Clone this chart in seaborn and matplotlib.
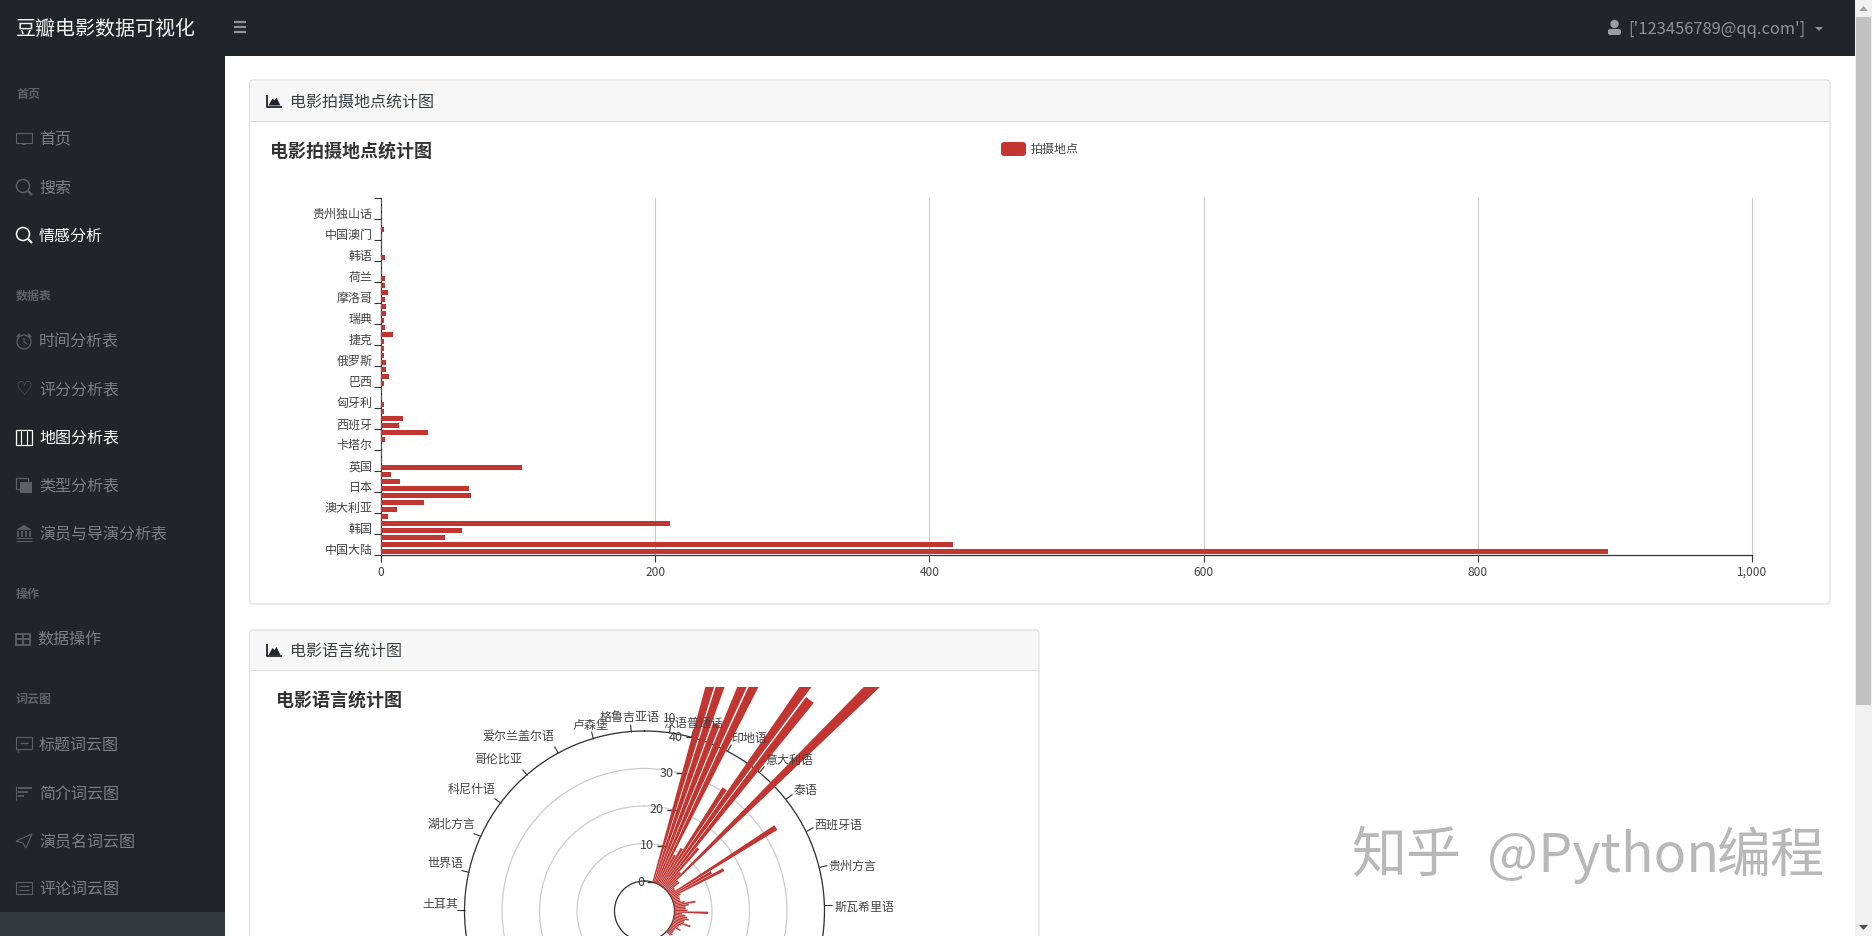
import numpy as np
import pandas as pd
import seaborn as sns
import matplotlib
matplotlib.use('Agg')
import matplotlib.pyplot as plt
from matplotlib.patches import Rectangle, FancyBboxPatch, Circle, Polygon
from matplotlib.transforms import IdentityTransform, ScaledTranslation

# data
location_names = ['中国大陆', '韩国', '澳大利亚', '日本', '英国', '卡塔尔', '西班牙', '匈牙利', '巴西',
                  '俄罗斯', '捷克', '瑞典', '摩洛哥', '荷兰', '韩语', '中国澳门', '贵州独山话']
location_counts = [895, 417, 47, 59, 211, 5, 12, 31, 66, 64, 14, 7, 103, 1, 1, 1, 3, 34, 13, 16, 2, 2, 1, 1, 2,
                   6, 4, 4, 2, 2, 2, 9, 3, 2, 4, 4, 3, 5, 3, 3, 1, 1, 3, 1, 1, 1, 2, 1, 1, 1, 1]
value_ticks = [0, 200, 400, 600, 800, 1000]

# only the first categories of the language chart are on screen
language_total = 148
language_counts = [95, 88, 45.5, 76, 70, 9, 11.4, 31, 82, 63.5, 14, 6, 92, 4, 4, 2, 2, 33.5, 12.6, 15.8,
                   2.6, 2, 2, 2, 2, 3, 5.8, 3.9, 3, 3, 3.5, 9, 2, 3, 3.5, 4, 3, 3, 4.9, 2.5, 2, 2, 2.9,
                   1.5, 1.5, 1.5, 1.5, 1.8, 1.5]
language_labels = {0: '汉语普通话', 1: '印地语', 2: '意大利语', 3: '泰语', 4: '西班牙语', 5: '贵州方言',
                   6: '斯瓦希里语', 21: '土耳其', 22: '世界语', 23: '湖北方言', 24: '科尼什语', 25: '哥伦比亚',
                   26: '爱尔兰盖尔语', 27: '卢森堡', 28: '格鲁吉亚语', 29: '10'}
radius_ticks = [0, 10, 20, 30, 40]

menu_heads = [('首页', 93), ('数据表', 295), ('操作', 593), ('词云图', 698)]
menu_items = [('首页', 138, 'monitor'), ('搜索', 187, 'search'), ('情感分析', 235, 'search'),
              ('时间分析表', 341, 'clock'), ('评分分析表', 389, 'heart'), ('地图分析表', 437, 'map'),
              ('类型分析表', 485, 'copy'), ('演员与导演分析表', 533, 'bank'), ('数据操作', 639, 'table'),
              ('标题词云图', 744, 'comment'), ('简介词云图', 793, 'bars'), ('演员名词云图', 841, 'send'),
              ('评论词云图', 888, 'lines')]
active_items = ['情感分析', '地图分析表']

RED = '#c23531'
DARK = '#212529'
AXIS = '#333333'
TEXT = '#444444'
W, H = 1872, 936

sns.set_theme(style='white')
plt.rcParams['font.family'] = ['Noto Sans CJK SC', 'DejaVu Sans']


def pt(px):
    return px * 0.72


def box(x, y):
    # axes rectangle from pixel corners, y counted from the top
    return [x[0] / W, 1 - y[1] / H, (x[1] - x[0]) / W, (y[1] - y[0]) / H]


fig = plt.figure(figsize=(W / 100, H / 100), dpi=100, facecolor='white')
page = fig.add_axes([0, 0, 1, 1], zorder=0)
page.set_xlim(0, W)
page.set_ylim(H, 0)
page.axis('off')


def label(x, y, s, px=16, color='#333333', **kw):
    # Noto sits a bit high and to the right of the browser font
    kw.setdefault('va', 'center')
    page.text(x - 1, y + 1.5, s, fontsize=pt(px), color=color, **kw)


def rect(x, y, w, h, **kw):
    page.add_patch(Rectangle((x, y), w, h, **kw))


def line(xs, ys, color, lw=0.8):
    page.plot(xs, ys, color=color, lw=lw, solid_capstyle='butt')


def card(x0, y0, x1, y1, head_bottom, title):
    page.add_patch(FancyBboxPatch((x0, y0), x1 - x0, y1 - y0, boxstyle='round,pad=0,rounding_size=4',
                                  fc='white', ec='#dcdcdc', lw=0.8))
    page.add_patch(FancyBboxPatch((x0 + 1, y0 + 1), x1 - x0 - 2, head_bottom - y0 - 1,
                                  boxstyle='round,pad=0,rounding_size=3', fc='#f7f7f7', ec='none'))
    line([x0, x1], [head_bottom, head_bottom], '#dcdcdc')
    cy = (y0 + head_bottom) / 2
    line([x0 + 17, x0 + 17, x0 + 32], [cy - 6, cy + 6, cy + 6], '#212529', 1.3)
    page.add_patch(Polygon([(x0 + 19, cy + 5), (x0 + 23, cy - 2), (x0 + 25, cy), (x0 + 27, cy - 3),
                            (x0 + 31, cy + 5)], fc='#212529', ec='none'))
    label(x0 + 41, cy, title, 16, '#3a3f44')


def icon(kind, y, c):
    x0, x1 = 16, 32
    if kind == 'monitor':
        rect(x0, y - 5, 16, 10, fc='none', ec=c, lw=0.8)
        rect(x0 + 6, y + 5, 4, 2, fc=c, ec='none')
    elif kind == 'search':
        page.add_patch(Circle((x0 + 7, y - 1), 6.5, fc='none', ec=c, lw=1.1))
        line([x0 + 12, x1], [y + 4, y + 8], c, 1.6)
    elif kind == 'clock':
        page.add_patch(Circle((24, y + 1), 7, fc='none', ec=c, lw=0.9))
        line([24, 24, 27], [y - 3, y + 1, y + 3], c)
        line([17, 20], [y - 4, y - 7], c, 1.4)
        line([28, 31], [y - 7, y - 4], c, 1.4)
    elif kind == 'heart':
        page.text(24, y, '♡', fontsize=pt(19), color=c, ha='center', va='center', family='DejaVu Sans')
    elif kind == 'map':
        rect(x0, y - 7, 16, 15, fc='none', ec=c, lw=0.9)
        line([21, 21], [y - 7, y + 8], c)
        line([27, 27], [y - 7, y + 8], c)
    elif kind == 'copy':
        rect(x0, y - 7, 12, 11, fc='none', ec=c, lw=0.9)
        rect(x0 + 4, y - 3, 12, 11, fc=c, ec='none')
    elif kind == 'bank':
        page.add_patch(Polygon([(16, y - 3), (24, y - 8), (32, y - 3)], fc=c, ec='none'))
        for xb in (18, 22, 26, 30):
            line([xb, xb], [y - 2, y + 4], c, 1.2)
        line([16, 32], [y + 5, y + 5], c)
        line([16, 32], [y + 8, y + 8], c)
    elif kind == 'table':
        rect(x0, y - 5, 14, 11, fc='none', ec=c, lw=1.3)
        line([x0, x0 + 14], [y, y], c, 1.3)
        line([x0 + 7, x0 + 7], [y - 5, y + 6], c, 1.3)
    elif kind == 'comment':
        rect(x0, y - 7, 16, 12, fc='none', ec=c, lw=0.8)
        line([x0 + 4, x0 + 12], [y - 1, y - 1], c, 1)
        line([x0 + 2, x0 + 2], [y + 5, y + 8], c, 1)
    elif kind == 'bars':
        line([x0, x0], [y - 7, y + 7], c)
        for i, xe in enumerate((32, 28, 24)):
            line([x0 + 2, xe], [y - 5 + i * 4, y - 5 + i * 4], c, 1.3)
    elif kind == 'send':
        page.add_patch(Polygon([(16, y), (32, y - 7), (26, y + 7), (23, y + 2)], fc='none', ec=c, lw=0.8))
    elif kind == 'lines':
        rect(x0, y - 6, 16, 12, fc='none', ec=c, lw=0.8)
        line([x0 + 3, x1 - 3], [y - 2, y - 2], c)
        line([x0 + 3, x1 - 3], [y + 2, y + 2], c)


# page frame
rect(0, 0, W, 56, fc=DARK, ec='none')
rect(0, 0, 225, H, fc='#212529', ec='none')
rect(0, 912, 225, 24, fc='#343a40', ec='none')
rect(1855, 0, 17, H, fc='#f1f1f1', ec='none')
rect(1856, 17, 15, 688, fc='#c1c1c1', ec='none')
page.add_patch(Polygon([(1859, 11), (1863.5, 6), (1868, 11)], fc='#a3a3a3', ec='none'))
page.add_patch(Polygon([(1859, 925), (1863.5, 930), (1868, 925)], fc='#505050', ec='none'))

label(17, 28, '豆瓣电影数据可视化', 20, '#f4f4f4')
for yb in (22, 27, 32):
    line([234, 246], [yb, yb], '#8f9296', 1.6)
page.add_patch(Circle((1614.5, 24), 4.2, fc='#9a9c9f', ec='none'))
page.add_patch(FancyBboxPatch((1608, 29), 13, 6, boxstyle='round,pad=0,rounding_size=2', fc='#9a9c9f', ec='none'))
label(1629, 27.5, "['123456789@qq.com']", 16.5, '#8f9296')
page.add_patch(Polygon([(1815, 27), (1823, 27), (1819, 31)], fc='#8f9296', ec='none'))

for text, y in menu_heads:
    label(17, y, text, 12, '#5f6368', fontweight='bold')
for text, y, kind in menu_items:
    c = '#ffffff' if text in active_items else '#7d8186'
    icon(kind, y, '#ffffff' if text in active_items else '#5c6065')
    label(38 if text == '数据操作' else 40, y, text, 16, c)

# cards
card(249.5, 80, 1830, 604, 121, '电影拍摄地点统计图')
card(249.5, 630, 1039, 960, 670, '电影语言统计图')
label(271, 150, '电影拍摄地点统计图', 18, '#333333', fontweight='bold')
label(277, 699, '电影语言统计图', 18, '#333333', fontweight='bold')
page.add_patch(FancyBboxPatch((1001, 142), 25, 14, boxstyle='round,pad=0,rounding_size=3', fc=RED, ec='none'))
label(1032, 148, '拍摄地点', 12, TEXT)

# horizontal bars
ax = fig.add_axes(box((381, 1752), (198, 555)), zorder=1)
ax.patch.set_alpha(0)
loc_df = pd.DataFrame({'pos': range(len(location_counts)), 'count': location_counts})
sns.barplot(data=loc_df, x='count', y='pos', orient='h', color=RED, saturation=1, width=0.74,
            linewidth=0, ax=ax, zorder=3)
ax.set_ylim(-0.5, len(location_counts) - 0.5)
ax.set_xlim(0, 1000)
ax.set_xlabel('')
ax.set_ylabel('')
ax.set_xticks(value_ticks)
ax.set_xticklabels([f'{v:,}' for v in value_ticks], fontsize=pt(12), color=TEXT)
ax.set_yticks(range(0, 51, 3))
ax.set_yticklabels(location_names, fontsize=pt(12), color=TEXT)
ax.set_yticks(list(np.arange(0, 51, 3) - 0.5) + [50.5], minor=True)
ax.tick_params(axis='y', which='major', left=False, length=0, pad=6)
ax.tick_params(axis='y', which='minor', left=True, length=5, width=0.8, color=AXIS)
ax.tick_params(axis='x', bottom=True, length=5, width=0.8, color=AXIS, pad=3)
raise_labels = ScaledTranslation(0, 2.2 / 100, fig.dpi_scale_trans)
for tl in ax.get_yticklabels():
    tl.set_transform(tl.get_transform() + raise_labels)
ax.grid(axis='x', color='#cccccc', lw=0.8)
for gl in ax.get_xgridlines():
    gl.set_clip_on(False)
ax.set_axisbelow(True)
sns.despine(ax=ax)
for side in ('left', 'bottom'):
    ax.spines[side].set_color(AXIS)
    ax.spines[side].set_linewidth(0.9)

# polar bars, 40 sits 180 px from the centre and the hole has a 30 px radius
cx, cy, outer = 644.5, 911, 180
polar = fig.add_axes(box((cx - outer, cx + outer), (cy - outer, cy + outer)), projection='polar', zorder=2)
polar.patch.set_alpha(0)
start = np.deg2rad(15)
step = 2 * np.pi / language_total
thetas = start + step * (np.arange(len(language_counts)) + 0.5)
sns.barplot(x=thetas, y=language_counts, native_scale=True, color=RED, saturation=1, width=0.84,
            linewidth=0, errorbar=None, ax=polar, zorder=3)
polar.set_theta_zero_location('N')
polar.set_theta_direction(-1)
polar.set_xlim(0, 2 * np.pi)
polar.set_rorigin(-8)
polar.set_rlim(0, 40)
polar.set_xlabel('')
polar.set_ylabel('')
tick_angles = start + step * 5 * np.arange(30)
polar.set_xticks(tick_angles % (2 * np.pi))
polar.set_xticklabels([])
polar.set_yticks(radius_ticks)
polar.set_yticklabels([])
polar.grid(axis='x', visible=False)
polar.grid(axis='y', visible=True, color='#cccccc', lw=0.9)
# with a hole tick1 belongs to the inner circle and tick2 to the outer one
polar.tick_params(axis='x', bottom=False, top=True, direction='out', length=6, width=0.8, color=AXIS)
for name in ('polar', 'inner'):
    polar.spines[name].set_visible(True)
    polar.spines[name].set_color(AXIS)
    polar.spines[name].set_linewidth(0.9)

# the canvas ends at y=687, long bars run past the outer circle up to there
canvas = Rectangle((0, 0), W, H - 687, transform=IdentityTransform())
for bar in polar.containers[0]:
    bar.set_clip_path(canvas)

for r in radius_ticks:
    polar.plot([start], [r], marker='_', ms=7, color=AXIS, clip_on=False, zorder=2)
    polar.annotate(str(r), (start, r), xytext=(-8, 0), textcoords='offset pixels', ha='right', va='center',
                   fontsize=pt(12.5), color=TEXT, annotation_clip=False, zorder=5)
for i, text in language_labels.items():
    a = tick_angles[i]
    s, c = np.sin(a), np.cos(a)
    ha = 'left' if s > 0.3 else 'right' if s < -0.3 else 'center'
    up = c * 14
    dx = s * 10
    if s < -0.3:
        # left side labels sit higher and closer in the reference
        up += 5
        dx = s * 6
    elif s > 0.9:
        up -= 3
    polar.annotate(text, (a, 40), xytext=(dx, up), textcoords='offset pixels', ha=ha, va='center',
                   fontsize=pt(12), color=TEXT, annotation_clip=False, zorder=5)

# watermark
mark = fig.add_axes([0, 0, 1, 1], zorder=3)
mark.set_xlim(0, W)
mark.set_ylim(H, 0)
mark.axis('off')
mark.text(1351, 856, '知乎', fontsize=pt(55), color='#b8b8b8', va='center')
mark.text(1487, 856, '@Python', fontsize=pt(54), color='#b8b8b8', va='center')
mark.text(1716, 856, '编程', fontsize=pt(54), color='#b8b8b8', va='center')

plt.savefig('out.png', dpi=100)
